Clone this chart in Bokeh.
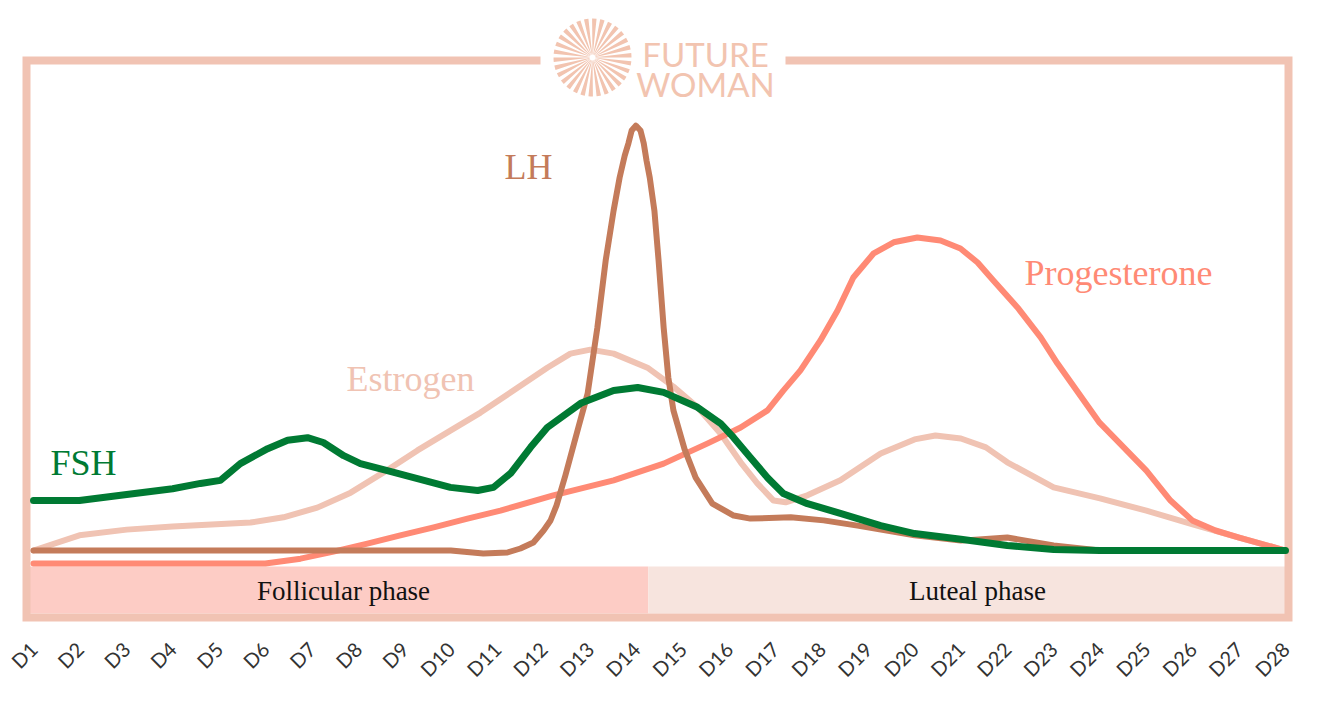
import math
from bokeh.plotting import figure
from bokeh.models import Range1d, FixedTicker, Label
from bokeh.embed import file_html
from bokeh.resources import INLINE

# ---------------- data ----------------
days = list(range(1, 29))
day_labels = [f"D{d}" for d in days]

phase_names = ["Follicular phase", "Luteal phase"]
ovulation_day = 14.26

lh_day = [1, 10, 10.7, 11.22, 11.5, 11.78, 12.0, 12.15, 12.28, 12.47, 12.75, 12.95, 13.16,
          13.34, 13.51, 13.64, 13.75, 13.83, 13.9, 13.99, 14.09, 14.16, 14.22, 14.29, 14.39,
          14.48, 14.59, 14.69, 14.8, 14.89, 15.04, 15.28, 15.64, 16.1, 16.46, 17.33, 18.04,
          18.77, 20, 21, 22, 23, 24, 28]
lh_level = [2.95, 2.95, 2.27, 2.5, 3.41, 4.77, 7.5, 9.77, 13.2, 20.0, 30.9, 38.6, 53.6,
            68.9, 80.2, 87.7, 92.7, 95.5, 98.4, 99.5, 98.4, 95.5, 91.6, 87.7, 80.2,
            68.9, 53.6, 42.3, 34.8, 31.5, 26.0, 19.5, 13.6, 10.9, 10.2, 10.5, 9.8,
            8.6, 6.4, 5.2, 5.9, 4.1, 2.95, 2.95]

fsh_day = [1, 1.99, 3.01, 4.0, 4.6, 5.03, 5.46, 6.05, 6.48, 6.91, 7.25, 7.69, 8.05, 8.63,
           9.28, 9.99, 10.58, 10.92, 11.29, 11.72, 12.08, 12.8, 13.51, 14.03, 14.59, 15.32,
           15.82, 16.1, 16.46, 16.83, 17.17, 17.69, 18.4, 19.27, 20, 21, 22, 23, 24, 28]
fsh_level = [14.3, 14.3, 15.7, 17.0, 18.2, 18.9, 22.7, 26.1, 28.0, 28.6, 27.5, 24.5, 22.7,
             21.1, 19.3, 17.3, 16.6, 17.3, 20.5, 26.4, 30.9, 36.4, 39.3, 40.0, 38.9, 35.5,
             31.8, 28.6, 24.1, 19.5, 15.9, 13.6, 11.4, 8.6, 6.8, 5.5, 4.1, 3.2, 2.95, 2.95]

estrogen_day = [1, 1.99, 3.01, 4.0, 5.68, 6.39, 7.12, 7.84, 8.55, 9.28, 9.99, 10.64, 11.35,
                12.08, 12.58, 13.01, 13.51, 14.24, 14.8, 15.32, 15.82, 16.25, 16.61, 16.96,
                17.22, 17.69, 18.4, 19.27, 20, 20.45, 21, 21.54, 22, 23, 24, 25, 26, 27, 28]
estrogen_level = [2.95, 6.4, 7.7, 8.4, 9.3, 10.5, 12.7, 16.1, 20.7, 25.7, 30.2, 34.3, 39.3,
                  44.5, 47.7, 48.6, 47.7, 44.5, 40.2, 35.5, 29.5, 23.0, 18.2, 14.3,
                  13.9, 15.5, 18.9, 25.0, 28.2, 29.1, 28.4, 26.4, 23.0, 17.3, 14.8, 12.0,
                  8.9, 5.9, 2.95]

progesterone_day = [1, 6, 6.76, 7.47, 8.2, 8.91, 9.63, 10.36, 11.07, 12.21, 13.51, 14.59,
                    15.54, 16.25, 16.83, 17.17, 17.54, 17.97, 18.34, 18.68, 19.12, 19.55,
                    20.06, 20.56, 20.99, 21.36, 21.7, 22.22, 22.72, 23.08, 23.99, 25.0,
                    25.52, 25.99, 26.49, 27.0, 28]
progesterone_level = [0, 0, 1.1, 2.7, 4.5, 6.4, 8.2, 10.2, 12.0, 15.5, 18.9, 22.7,
                      27.3, 30.9, 34.8, 39.3, 43.9, 50.7, 57.5, 65.0, 70.5, 73.0,
                      74.1, 73.4, 71.6, 68.4, 64.3, 58.2, 51.4, 45.5, 32.0, 21.1,
                      14.3, 9.8, 7.5, 5.9, 2.95]

# ---------------- layout helpers ----------------
W, H = 1320, 704
AXIS_BAND = 72
FRAME_H = H - AXIS_BAND
X0_PX, DX_PX = 33.0, 46.37      # pixel of D1, pixels per day
Y0_PX, DY_PX = 563.0, 4.4       # pixel of level 0, pixels per level unit


def xd(px):
    return 1 + (px - X0_PX) / DX_PX


def yd(py):
    return (Y0_PX - py) / DY_PX


FRAME_COLOR = "#f1c3b3"
LH_COLOR = "#c47b5a"
FSH_COLOR = "#007a33"
EST_COLOR = "#f0c3b3"
PROG_COLOR = "#ff8a75"
SERIF = "Liberation Serif"

p = figure(width=W, height=H,
           x_range=Range1d(xd(0), xd(W)), y_range=Range1d(yd(FRAME_H), yd(0)),
           output_backend="svg", toolbar_location=None, y_axis_location=None,
           min_border_left=0, min_border_right=0, min_border_top=0,
           min_border_bottom=AXIS_BAND)
p.outline_line_color = None
p.grid.visible = False
p.background_fill_color = "white"
p.border_fill_color = "white"

# phase bands
left_edge, right_edge = xd(26), xd(1288)
p.quad(left=[left_edge, ovulation_day], right=[ovulation_day, right_edge],
       top=yd(566), bottom=yd(613), color=["#fdccc5", "#f7e4de"], line_color=None)

# frame with gap for logo
fx = [xd(540), xd(26), xd(26), xd(1288), xd(1288), xd(785)]
fy = [yd(60), yd(60), yd(617), yd(617), yd(60), yd(60)]
p.line(fx, fy, line_width=8, line_color=FRAME_COLOR, line_join="miter")

# logo sunburst
n_rays = 30
step = 2 * math.pi / n_rays
starts = [i * step for i in range(n_rays)]
ends = [s + step * 0.55 for s in starts]
p.annular_wedge(x=[xd(592)] * n_rays, y=[yd(57)] * n_rays,
                inner_radius=3, outer_radius=39,
                inner_radius_units="screen", outer_radius_units="screen",
                start_angle=starts, end_angle=ends, color="#f2c4b0", line_color=None)
for txt, py in (("FUTURE", 53), ("WOMAN", 83)):
    p.add_layout(Label(x=xd(705), y=yd(py), text=txt, text_font="Lato",
                       text_font_size="33px", text_color="#f2c4b0",
                       text_align="center", text_baseline="middle"))

# curves
p.line(estrogen_day, estrogen_level, line_width=6, line_color=EST_COLOR,
       line_join="round", line_cap="round")
p.line(progesterone_day, progesterone_level, line_width=6, line_color=PROG_COLOR,
       line_join="round", line_cap="round")
p.line(lh_day, lh_level, line_width=6, line_color=LH_COLOR,
       line_join="round", line_cap="round")
p.line(fsh_day, fsh_level, line_width=7, line_color=FSH_COLOR,
       line_join="round", line_cap="round")

# series labels
for txt, px, py, col in (("LH", 528, 166, LH_COLOR), ("Estrogen", 410, 378, EST_COLOR),
                         ("Progesterone", 1118, 272, PROG_COLOR),
                         ("FSH", 83, 462, FSH_COLOR)):
    p.add_layout(Label(x=xd(px), y=yd(py), text=txt, text_font=SERIF,
                       text_font_size="36px", text_color=col,
                       text_align="center", text_baseline="middle"))

# phase labels
for txt, px in zip(phase_names, (343, 977)):
    p.add_layout(Label(x=xd(px), y=yd(590), text=txt, text_font=SERIF,
                       text_font_size="27px", text_color="#111111",
                       text_align="center", text_baseline="middle"))

# x axis
ax = p.xaxis[0]
ax.ticker = FixedTicker(ticks=days)
ax.major_label_overrides = {d: lab for d, lab in zip(days, day_labels)}
ax.axis_line_color = None
ax.major_tick_line_color = None
ax.minor_tick_line_color = None
ax.major_label_orientation = math.pi / 4
ax.major_label_text_font = "Lato"
ax.major_label_text_font_size = "20px"
ax.major_label_text_color = "#333333"
ax.major_label_standoff = 7

open("out.html", "w").write(file_html(p, INLINE))
